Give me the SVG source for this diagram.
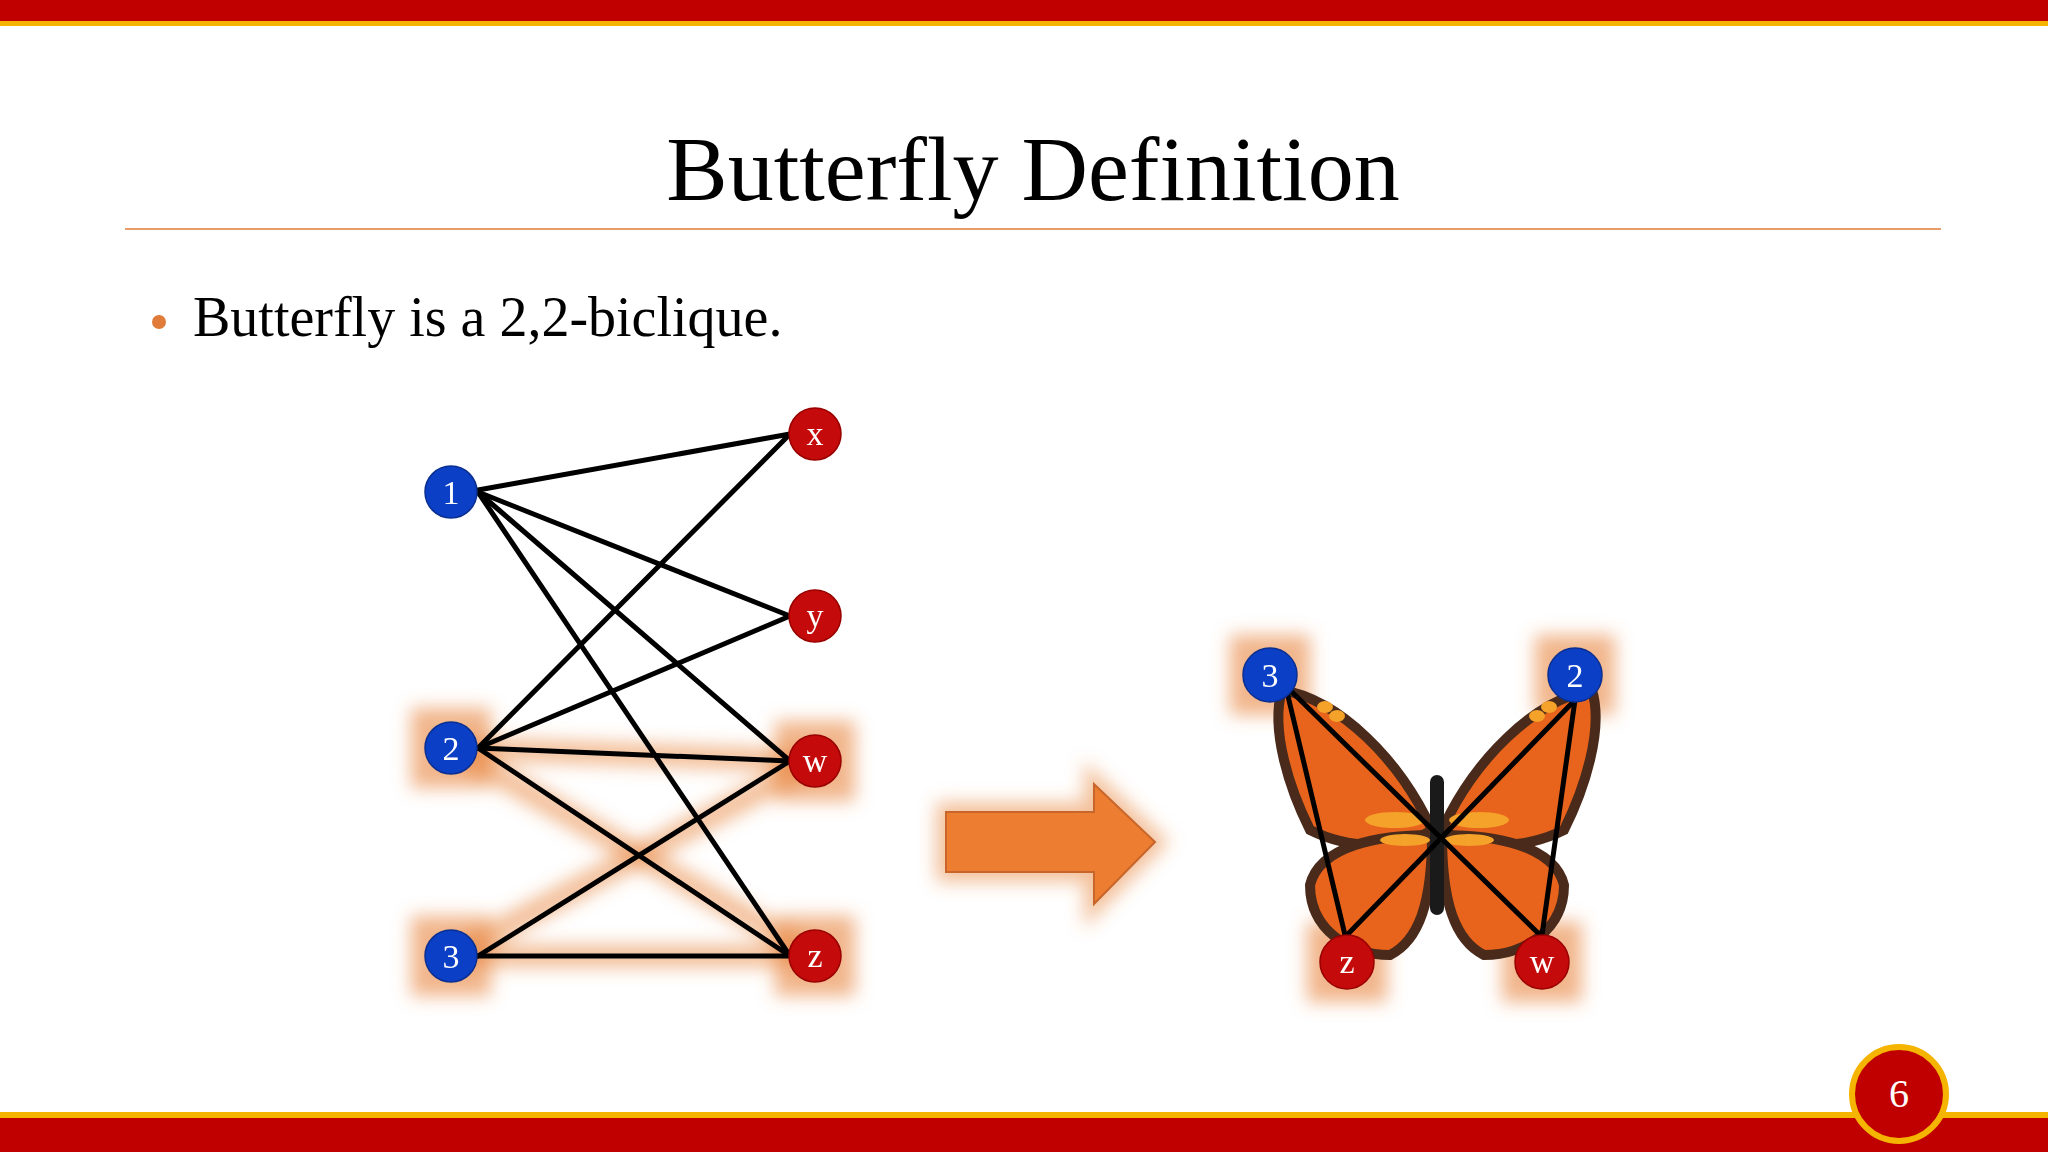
<svg xmlns="http://www.w3.org/2000/svg" width="2048" height="1152" viewBox="0 0 2048 1152">
<defs>
<style>
.e{stroke:#000;stroke-width:5;fill:none;stroke-linecap:round}
.g{stroke:#e8843a;stroke-width:22;fill:none;opacity:.55}
.b{fill:#0a3fc6;stroke:#0a2f90;stroke-width:1.5}
.r{fill:#c40a0a;stroke:#900;stroke-width:1.5}
.t{font-family:"Liberation Serif",serif;fill:#fff;font-size:34px;text-anchor:middle}
.wing{fill:#e8641c;stroke:#4a2a1a;stroke-width:10}
</style>
<filter id="blur" x="-50%" y="-50%" width="200%" height="200%"><feGaussianBlur stdDeviation="9"/></filter>
<filter id="blur2" x="-50%" y="-50%" width="200%" height="200%"><feGaussianBlur stdDeviation="6"/></filter>
</defs>
<rect width="2048" height="1152" fill="#fff"/>
<rect x="0" y="0" width="2048" height="21" fill="#c00000"/>
<rect x="0" y="21" width="2048" height="5" fill="#f4b400"/>
<rect x="0" y="1112" width="2048" height="6" fill="#f4b400"/>
<rect x="0" y="1118" width="2048" height="34" fill="#c00000"/>
<g id="page"><circle cx="1899" cy="1094" r="47" fill="#c00000" stroke="#f4b400" stroke-width="6"/>
<text x="1899" y="1107" font-family="Liberation Serif,serif" font-size="40" fill="#fff" text-anchor="middle">6</text></g>
<text x="1033" y="200" font-family="Liberation Serif,serif" font-size="92" fill="#000" text-anchor="middle">Butterfly Definition</text>
<line x1="125" y1="229" x2="1941" y2="229" stroke="#e07b39" stroke-width="1.5"/>
<circle cx="159" cy="322" r="7" fill="#e07b39"/>
<text x="193" y="336" font-family="Liberation Serif,serif" font-size="56" fill="#000">Butterfly is a 2,2-biclique.</text>

<g id="glow" filter="url(#blur)">
<line class="g" x1="451" y1="748" x2="815" y2="761"/>
<line class="g" x1="451" y1="748" x2="815" y2="956"/>
<line class="g" x1="451" y1="956" x2="815" y2="761"/>
<line class="g" x1="451" y1="956" x2="815" y2="956"/>
<rect x="411" y="708" width="80" height="80" fill="#e8843a" opacity=".6"/>
<rect x="411" y="916" width="80" height="80" fill="#e8843a" opacity=".6"/>
<rect x="775" y="721" width="80" height="80" fill="#e8843a" opacity=".6"/>
<rect x="775" y="916" width="80" height="80" fill="#e8843a" opacity=".6"/>
<path d="M946 812 H1094 V784 L1155 842 L1094 904 V872 H946 Z" fill="#e8843a" opacity=".5" stroke="#e8843a" stroke-width="20"/>
<rect x="1230" y="635" width="80" height="80" fill="#e8843a" opacity=".6"/>
<rect x="1535" y="635" width="80" height="80" fill="#e8843a" opacity=".6"/>
<rect x="1307" y="922" width="80" height="80" fill="#e8843a" opacity=".6"/>
<rect x="1502" y="922" width="80" height="80" fill="#e8843a" opacity=".6"/>
</g>

<g id="arrow"><path d="M946 812 H1094 V784 L1155 842 L1094 904 V872 H946 Z" fill="#ed7d31" stroke="#c8652a" stroke-width="2"/></g>

<g id="butterfly">
<path class="wing" d="M1432 830 C1400 760 1340 700 1282 690 C1270 730 1290 790 1310 830 C1350 850 1400 850 1432 830 Z"/>
<path class="wing" d="M1442 830 C1474 760 1534 700 1592 690 C1604 730 1584 790 1564 830 C1524 850 1474 850 1442 830 Z"/>
<path class="wing" d="M1432 835 C1380 835 1320 845 1310 885 C1310 930 1350 955 1390 955 C1420 940 1432 900 1432 835 Z"/>
<path class="wing" d="M1442 835 C1494 835 1554 845 1564 885 C1564 930 1524 955 1484 955 C1454 940 1442 900 1442 835 Z"/>
<g fill="#f4a22a">
<ellipse cx="1325" cy="707" rx="8" ry="6"/><ellipse cx="1337" cy="716" rx="8" ry="6"/>
<ellipse cx="1549" cy="707" rx="8" ry="6"/><ellipse cx="1537" cy="716" rx="8" ry="6"/>
<ellipse cx="1395" cy="820" rx="30" ry="8"/><ellipse cx="1479" cy="820" rx="30" ry="8"/>
<ellipse cx="1405" cy="840" rx="25" ry="6"/><ellipse cx="1469" cy="840" rx="25" ry="6"/>
</g>
<rect x="1430" y="775" width="14" height="140" rx="7" fill="#1a1a1a"/>
</g>

<g id="connectors">
<line class="e" x1="478" y1="490" x2="790" y2="434"/>
<line class="e" x1="478" y1="492" x2="790" y2="616"/>
<line class="e" x1="478" y1="492" x2="790" y2="761"/>
<line class="e" x1="478" y1="492" x2="790" y2="956"/>
<line class="e" x1="478" y1="748" x2="790" y2="434"/>
<line class="e" x1="478" y1="748" x2="790" y2="616"/>
<line class="e" x1="478" y1="748" x2="790" y2="761"/>
<line class="e" x1="478" y1="748" x2="790" y2="956"/>
<line class="e" x1="478" y1="956" x2="790" y2="761"/>
<line class="e" x1="478" y1="956" x2="790" y2="956"/>
<line class="e" x1="1287" y1="692" x2="1345" y2="935"/>
<line class="e" x1="1292" y1="692" x2="1540" y2="935"/>
<line class="e" x1="1575" y1="700" x2="1347" y2="935"/>
<line class="e" x1="1575" y1="700" x2="1542" y2="935"/>
</g>

<g id="n1"><circle class="b" cx="451" cy="492" r="26"/><text class="t" x="451" y="504">1</text></g>
<g id="n2"><circle class="b" cx="451" cy="748" r="26"/><text class="t" x="451" y="760">2</text></g>
<g id="n3"><circle class="b" cx="451" cy="956" r="26"/><text class="t" x="451" y="968">3</text></g>
<g id="nx"><circle class="r" cx="815" cy="434" r="26"/><text class="t" x="815" y="445">x</text></g>
<g id="ny"><circle class="r" cx="815" cy="616" r="26"/><text class="t" x="815" y="627">y</text></g>
<g id="nw"><circle class="r" cx="815" cy="761" r="26"/><text class="t" x="815" y="772">w</text></g>
<g id="nz"><circle class="r" cx="815" cy="956" r="26"/><text class="t" x="815" y="967">z</text></g>
<g id="b3"><circle class="b" cx="1270" cy="675" r="27"/><text class="t" x="1270" y="687">3</text></g>
<g id="b2"><circle class="b" cx="1575" cy="675" r="27"/><text class="t" x="1575" y="687">2</text></g>
<g id="bz"><circle class="r" cx="1347" cy="962" r="27"/><text class="t" x="1347" y="973">z</text></g>
<g id="bw"><circle class="r" cx="1542" cy="962" r="27"/><text class="t" x="1542" y="973">w</text></g>
</svg>
